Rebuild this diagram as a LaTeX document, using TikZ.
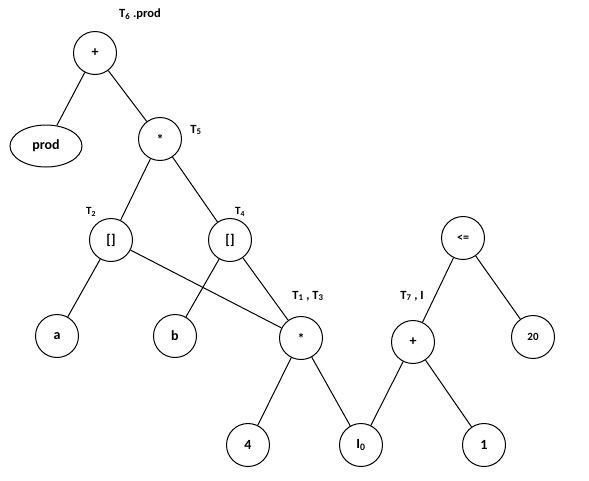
\documentclass[tikz,border=0pt]{standalone}
\usepackage{fontspec}
\setmainfont{Carlito}
\usetikzlibrary{shapes.geometric}
\begin{document}
\begin{tikzpicture}[x=1pt,y=-1pt,
  nd/.style={draw,circle,minimum size=43pt,inner sep=0pt,line width=1pt,font=\bfseries\fontsize{14}{16}\selectfont},
  el/.style={draw,ellipse,minimum width=72pt,minimum height=42pt,inner sep=0pt,line width=1pt,font=\bfseries\fontsize{14}{16}\selectfont},
  lab/.style={font=\bfseries\fontsize{12.5}{14}\selectfont,inner sep=0pt},
  ed/.style={line width=1pt}]
\useasboundingbox (0,0) rectangle (589,480);
\node[nd] (plus) at (95,53) {+};
\node[el] (prod) at (46,146) {prod};
\node[nd] (st5) at (160,139) {*};
\node[nd] (br2) at (111,240) {[]};
\node[nd] (br4) at (230,240) {[]};
\node[nd] (a) at (57,336) {a};
\node[nd] (b) at (175,336) {b};
\node[nd] (st1) at (301,338) {*};
\node[nd] (n4) at (248,445) {4};
\node[nd] (i0) at (361,445) {I\textsubscript{0}};
\node[nd] (pl7) at (413,342) {+};
\node[nd] (n1) at (484,445) {1};
\node[nd,font=\bfseries\fontsize{12}{14}\selectfont] (le) at (463,238) {<=};
\node[nd,font=\bfseries\fontsize{11}{13}\selectfont] (n20) at (533,337) {20};
\node[lab] (l6) at (140,14) {T\textsubscript{6} .prod};
\node[lab] (l5) at (196,130) {T\textsubscript{5}};
\node[lab,font=\bfseries\fontsize{11}{13}\selectfont] (l2) at (91,212) {T\textsubscript{2}};
\node[lab,font=\bfseries\fontsize{11}{13}\selectfont] (l4) at (240,212) {T\textsubscript{4}};
\node[lab] (l13) at (308,296) {T\textsubscript{1} , T\textsubscript{3}};
\node[lab] (l7) at (412,296) {T\textsubscript{7} , I};
\draw[ed] (plus) -- (prod);
\draw[ed] (plus) -- (st5);
\draw[ed] (st5) -- (br2);
\draw[ed] (st5) -- (br4);
\draw[ed] (br2) -- (a);
\draw[ed] (br2) -- (st1);
\draw[ed] (br4) -- (b);
\draw[ed] (br4) -- (st1);
\draw[ed] (st1) -- (n4);
\draw[ed] (st1) -- (i0);
\draw[ed] (pl7) -- (i0);
\draw[ed] (pl7) -- (n1);
\draw[ed] (le) -- (pl7);
\draw[ed] (le) -- (n20);
\end{tikzpicture}
\end{document}
